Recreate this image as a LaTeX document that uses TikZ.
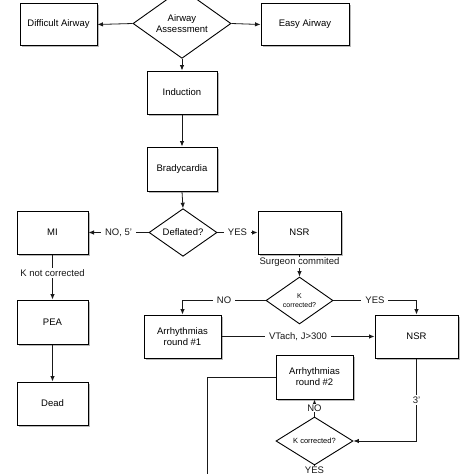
\documentclass[tikz,border=0pt]{standalone}
\usepackage{fontspec}
\setmainfont{Liberation Sans}
\usepackage{tikz}
\usetikzlibrary{shapes.geometric, arrows.meta, positioning, shadows}
\tikzstyle{box}=[draw, line width=1pt, fill=white, align=center,
  drop shadow={shadow xshift=1.8pt, shadow yshift=-1.8pt, opacity=0.55},
  font=\fontsize{9.5}{11}\selectfont, inner sep=1pt]
\tikzstyle{decision}=[diamond, draw, line width=0.9pt, fill=white, align=center,
  inner sep=0pt, font=\fontsize{9.5}{11}\selectfont]
\tikzstyle{arrow}=[-{Latex[length=5.5pt,width=4.5pt]}, line width=0.8pt, color=black!90]
\tikzstyle{plain}=[line width=0.8pt, color=black!90]
\tikzstyle{lbl}=[fill=white, inner xsep=4pt, inner ysep=1.5pt, font=\fontsize{9.5}{11}\selectfont]

\begin{document}
\begin{tikzpicture}[x=1pt, y=-1pt]
  \useasboundingbox (0,0) rectangle (474,474);

  % Top row
  \node[decision, minimum width=98pt, minimum height=46pt] (assess) at (182,23.5) {Airway\\Assessment};
  \node[box, minimum width=77pt, minimum height=42pt] (difficult) at (58.5,24.5) {Difficult Airway};
  \node[box, minimum width=88pt, minimum height=42pt] (easy) at (305,24.5) {Easy Airway};

  % Main column
  \node[box, minimum width=70pt, minimum height=43pt] (induction) at (182,92.5) {Induction};
  \node[box, minimum width=70pt, minimum height=44pt] (brady) at (182,169) {Bradycardia};
  \node[decision, minimum width=68pt, minimum height=43pt] (deflated) at (183,232.5) {Deflated?};

  % Left branch
  \node[box, minimum width=71pt, minimum height=43pt] (mi) at (52.5,232.5) {MI};
  \node[box, minimum width=71pt, minimum height=44pt] (pea) at (52.5,322) {PEA};
  \node[box, minimum width=71pt, minimum height=43pt] (dead) at (52.5,403.5) {Dead};

  % Right branch
  \node[box, minimum width=83pt, minimum height=43pt] (nsr) at (299.5,232.5) {NSR};
  \node[decision, minimum width=67pt, minimum height=39pt, font=\fontsize{7}{9}\selectfont] (kcorr) at (299.5,300.5) {K\\corrected?};
  \node[box, minimum width=77pt, minimum height=43pt] (arrone) at (182.5,336.5) {Arrhythmias\\round \#1};
  \node[box, minimum width=83pt, minimum height=43pt] (nsrtwo) at (416.5,336.5) {NSR};
  \node[box, minimum width=77pt, minimum height=44pt] (arrtwo) at (314.5,377) {Arrhythmias\\round \#2};
  \node[decision, minimum width=77pt, minimum height=42pt, font=\fontsize{7.5}{9}\selectfont] (kcorrtwo) at (314.5,441) {K corrected?};

  % Loose ends at the bottom edge
  \coordinate (outleft) at (207,474);
  \coordinate (outyes) at (314.5,474);

  % Connectors
  \draw[arrow] (assess.west) -- (difficult.east);
  \draw[arrow] (assess.east) -- (easy.west);
  \draw[arrow] (assess.south) -- (induction.north);
  \draw[arrow] (induction.south) -- (brady.north);
  \draw[arrow] (brady.south) -- (deflated.north);
  \draw[arrow] (deflated.west) -- node[lbl]{NO, 5'} (mi.east);
  \draw[arrow] (deflated.east) -- node[lbl]{YES} (nsr.west);
  \draw[arrow] (mi.south) -- node[lbl, pos=0.42]{K not corrected} (pea.north);
  \draw[arrow] (pea.south) -- (dead.north);
  \draw[arrow] (nsr.south) -- node[lbl, pos=0.36]{Surgeon commited} (kcorr.north);
  \draw[arrow] (kcorr.west) -| node[lbl, pos=0.25]{NO} (arrone.north);
  \draw[arrow] (kcorr.east) -| node[lbl, pos=0.25]{YES} (nsrtwo.north);
  \draw[arrow] (arrone.east) -- node[lbl]{VTach, J>300} (nsrtwo.west);
  \draw[arrow] (kcorrtwo.north) -- node[lbl, inner sep=0.5pt]{NO} (arrtwo.south);
  \draw[arrow] (nsrtwo.south) |- node[lbl, pos=0.25]{3'} (kcorrtwo.east);
  \draw[plain] (arrtwo.west) -| (outleft);
  \draw[plain] (kcorrtwo.south) -- node[lbl, inner sep=0.5pt]{YES} (outyes);
\end{tikzpicture}
\end{document}
